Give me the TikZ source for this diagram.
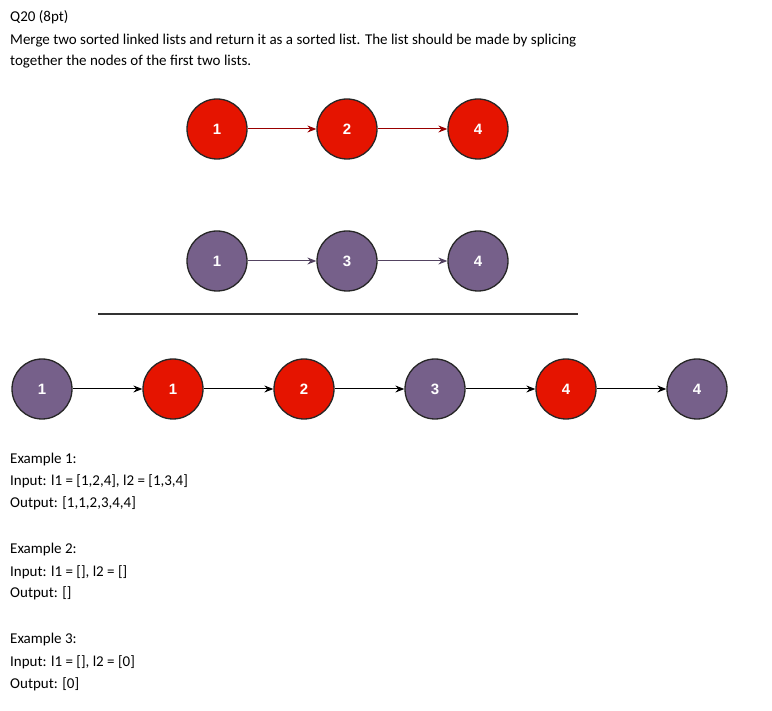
\documentclass[tikz,border=0pt]{standalone}
\usepackage{fontspec}
\setmainfont{Carlito}
\usetikzlibrary{arrows.meta}
\definecolor{rd}{HTML}{E51400}
\definecolor{pu}{HTML}{76608A}
\begin{document}
\begin{tikzpicture}[x=1pt,y=-1pt,
 nd/.style={circle,draw=black!85,line width=1.3pt,minimum size=60pt,inner sep=0pt,text=white,font=\fontspec{Liberation Sans}\bfseries\fontsize{15}{15}\selectfont},
 r/.style={nd,fill=rd}, p/.style={nd,fill=pu},
 ar/.style={-{Stealth[length=9pt,width=7pt]},line width=1pt},
 tx/.style={anchor=west,inner sep=0pt,font=\fontsize{15}{18}\selectfont}]
\useasboundingbox (0,0) rectangle (772,711);
\node[tx] (t1) at (10,17) {Q20 (8pt)};
\node[tx] (t2) at (10,41) {Merge two sorted linked lists and return it as a sorted list. The list should be made by splicing};
\node[tx] (t3) at (10,62) {together the nodes of the first two lists.};
\node[r] (a1) at (217,129) {1};
\node[r] (a2) at (347,129) {2};
\node[r] (a3) at (478,129) {4};
\node[p] (b1) at (217,261) {1};
\node[p] (b2) at (347,261) {3};
\node[p] (b3) at (478,261) {4};
\draw[ar,draw=red!60!black] (a1)--(a2); \draw[ar,draw=red!60!black] (a2)--(a3);
\draw[ar,draw=pu!70!black] (b1)--(b2); \draw[ar,draw=pu!70!black] (b2)--(b3);
\coordinate (l1) at (98,314); \coordinate (l2) at (578,314);
\draw[line width=2pt,black!80] (l1)--(l2);
\node[p] (c1) at (42,389) {1};
\node[r] (c2) at (173,389) {1};
\node[r] (c3) at (304,389) {2};
\node[p] (c4) at (435,389) {3};
\node[r] (c5) at (566,389) {4};
\node[p] (c6) at (697,389) {4};
\foreach \i/\j in {c1/c2,c2/c3,c3/c4,c4/c5,c5/c6} \draw[ar] (\i)--(\j);
\node[tx] (e1) at (10,460) {Example 1:};
\node[tx] (e2) at (10,481) {Input: l1 = [1,2,4], l2 = [1,3,4]};
\node[tx] (e3) at (10,503) {Output: [1,1,2,3,4,4]};
\node[tx] (f1) at (10,550) {Example 2:};
\node[tx] (f2) at (10,572) {Input: l1 = [], l2 = []};
\node[tx] (f3) at (10,593) {Output: []};
\node[tx] (g1) at (10,640) {Example 3:};
\node[tx] (g2) at (10,662) {Input: l1 = [], l2 = [0]};
\node[tx] (g3) at (10,684) {Output: [0]};
\end{tikzpicture}
\end{document}
